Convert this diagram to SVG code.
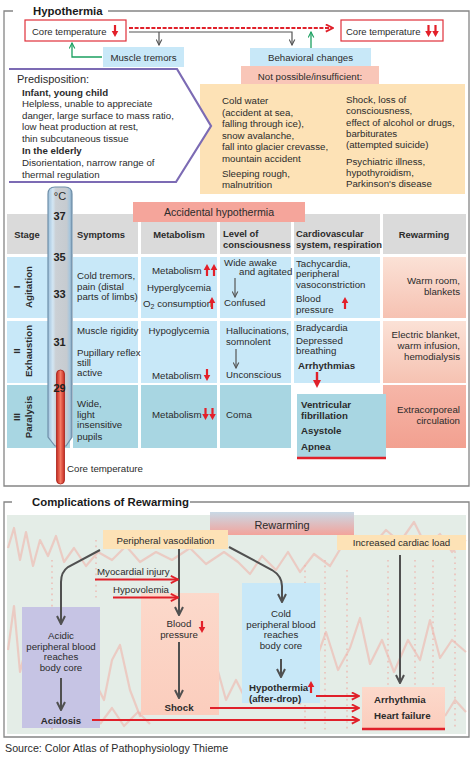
<svg xmlns="http://www.w3.org/2000/svg" width="474" height="761" viewBox="0 0 474 761">
<defs>
<style>
text{font-family:"Liberation Sans",Arial,sans-serif;font-size:9.7px;fill:#2b2b2b}
.b{font-weight:bold}
.hd{font-weight:bold;font-size:9.4px}
.m{text-anchor:middle}
.e{text-anchor:end}
.frame{fill:none;stroke:#858585;stroke-width:1.3}
.title{font-weight:bold;font-size:11.4px;fill:#1a1a1a}
.blue{fill:#c8e8f8}
.teal{fill:#a8d6e2}
.gray{fill:#dadada}
.ga{fill:none;stroke:#555;stroke-width:1.2}
.gA{fill:none;stroke:#505050;stroke-width:2}
.ra{fill:none;stroke:#e0202a;stroke-width:2}
.green{fill:none;stroke:#1ba060;stroke-width:1.3}
.ecg{fill:none;stroke:#f0aea6;stroke-width:2.2;stroke-linejoin:round;opacity:.55}
.dots{fill:none;stroke:#efb4ac;stroke-width:1.6;stroke-dasharray:1.6 4;opacity:.8}
.num{font-weight:bold;font-size:11px;text-anchor:middle;fill:#222}
.ind{fill:#e3202a}
</style>
<marker id="mg" viewBox="0 0 10 10" refX="9" refY="5" markerWidth="7" markerHeight="7" orient="auto" markerUnits="userSpaceOnUse"><path d="M1,1 L9,5 L1,9" fill="none" stroke="#555" stroke-width="1.6"/></marker>
<marker id="mG" viewBox="0 0 10 10" refX="9" refY="5" markerWidth="10" markerHeight="10" orient="auto" markerUnits="userSpaceOnUse"><path d="M1,1 L9,5 L1,9" fill="none" stroke="#505050" stroke-width="2"/></marker>
<marker id="mr" viewBox="0 0 10 10" refX="9" refY="5" markerWidth="9" markerHeight="9" orient="auto" markerUnits="userSpaceOnUse"><path d="M1,1 L9,5 L1,9" fill="none" stroke="#e0202a" stroke-width="2"/></marker>
<marker id="mgr" viewBox="0 0 10 10" refX="9" refY="5" markerWidth="7" markerHeight="7" orient="auto" markerUnits="userSpaceOnUse"><path d="M1,1 L9,5 L1,9" fill="none" stroke="#1ba060" stroke-width="1.6"/></marker>
<marker id="mrf" viewBox="0 0 10 10" refX="5" refY="5" markerWidth="8" markerHeight="8" orient="auto" markerUnits="userSpaceOnUse"><path d="M0,0 L10,5 L0,10 Z" fill="#e0202a"/></marker>
<path id="dn" class="ind" d="M-1.1,-6 H1.1 V0 H3.3 L0,6 L-3.3,0 H-1.1 Z"/>
<path id="up" class="ind" d="M-1.1,6 H1.1 V0 H3.3 L0,-6 L-3.3,0 H-1.1 Z"/>
<linearGradient id="thermoG" x1="0" x2="1" y1="0" y2="0">
<stop offset="0" stop-color="#9ec1dc"/><stop offset="0.2" stop-color="#d3e6f3"/><stop offset="0.32" stop-color="#cbd0d5"/><stop offset="0.78" stop-color="#c6cbd0"/><stop offset="0.9" stop-color="#a8c6dc"/><stop offset="1" stop-color="#7f9fb8"/>
</linearGradient>
<linearGradient id="mercG" x1="0" x2="1" y1="0" y2="0">
<stop offset="0" stop-color="#c42a20"/><stop offset="0.5" stop-color="#f47a64"/><stop offset="1" stop-color="#c42a20"/>
</linearGradient>
<linearGradient id="rewG" x1="0" x2="0" y1="0" y2="1"><stop offset="0" stop-color="#fbe1d6"/><stop offset="1" stop-color="#f6c2b2"/></linearGradient>
<linearGradient id="rew3G" x1="0" x2="0" y1="0" y2="1"><stop offset="0" stop-color="#f6b6a8"/><stop offset="1" stop-color="#f2a090"/></linearGradient>
<linearGradient id="rewBoxG" x1="0" x2="0" y1="0" y2="1"><stop offset="0" stop-color="#c9d9e6"/><stop offset="1" stop-color="#f3a39b"/></linearGradient>
<linearGradient id="salG" x1="0" x2="0" y1="0" y2="1"><stop offset="0" stop-color="#fcd9cb"/><stop offset="1" stop-color="#fbcdbd"/></linearGradient>
</defs>

<rect width="474" height="761" fill="#fff"/>

<!-- ============ TOP SECTION ============ -->
<g id="frame-hypothermia">
<path class="frame" d="M13,11 H4 V486 H469 V11 H108"/>
<text class="title" x="33" y="15">Hypothermia</text>
</g>

<g id="not-possible-causes">
<rect x="200" y="84" width="265" height="110" fill="#fde2b6"/>
<text x="222" y="104">Cold water</text>
<text x="222" y="115.5">(accident at sea,</text>
<text x="222" y="127">falling through ice),</text>
<text x="222" y="138.5">snow avalanche,</text>
<text x="222" y="150">fall into glacier crevasse,</text>
<text x="222" y="161.5">mountain accident</text>
<text x="222" y="177">Sleeping rough,</text>
<text x="222" y="188">malnutrition</text>
<text x="346" y="103">Shock, loss of</text>
<text x="346" y="114">consciousness,</text>
<text x="346" y="125.5">effect of alcohol or drugs,</text>
<text x="346" y="137">barbiturates</text>
<text x="346" y="148">(attempted suicide)</text>
<text x="346" y="165">Psychiatric illness,</text>
<text x="346" y="176">hypothyroidism,</text>
<text x="346" y="187">Parkinson's disease</text>
</g>

<g id="predisposition">
<path d="M9,69 L177,69 L211,126 L176,182 L9,182" fill="#fff" stroke="#7c6bb4" stroke-width="2.2" stroke-linejoin="miter"/>
<text x="17" y="83" style="font-size:11px">Predisposition:</text>
<text class="b" x="22" y="95.5">Infant, young child</text>
<text x="22" y="107">Helpless, unable to appreciate</text>
<text x="22" y="118.5">danger, large surface to mass ratio,</text>
<text x="22" y="130">low heat production at rest,</text>
<text x="22" y="141.5">thin subcutaneous tissue</text>
<text class="b" x="22" y="154">In the elderly</text>
<text x="22" y="166">Disorientation, narrow range of</text>
<text x="22" y="177.5">thermal regulation</text>
</g>

<g id="core-temp-low">
<rect x="25" y="20" width="101" height="21" fill="#fff" stroke="#e0303a" stroke-width="1.2"/>
<text x="32" y="35" style="font-size:9.5px">Core temperature</text>
<use href="#dn" x="115" y="31"/>
</g>

<g id="core-temp-very-low">
<rect x="341" y="20" width="102" height="21" fill="#fff" stroke="#e0303a" stroke-width="1.2"/>
<text x="346" y="35" style="font-size:9.5px">Core temperature</text>
<use href="#dn" x="428.5" y="31"/>
<use href="#dn" x="435.5" y="31"/>
</g>

<g id="muscle-tremors">
<rect x="103" y="47" width="81" height="20" class="blue"/>
<text class="m" x="143.5" y="61">Muscle tremors</text>
</g>

<g id="behavioral-changes">
<rect x="250" y="48" width="121" height="18" class="blue"/>
<text class="m" x="310.5" y="61">Behavioral changes</text>
</g>

<g id="not-possible">
<rect x="241" y="66" width="138" height="18" fill="#f9c6b8"/>
<text class="m" x="310" y="79.5">Not possible/insufficient:</text>
</g>

<g id="connectors-top">
<path d="M129,28 H333" fill="none" stroke="#e0202a" stroke-width="2" stroke-dasharray="4 1.6" marker-end="url(#mr)"/>
<path class="ga" d="M129,32 H292 V45" marker-end="url(#mg)"/>
<path class="ga" d="M159,32 V45" marker-end="url(#mg)"/>
<path class="green" d="M102,57 H72 V43" marker-end="url(#mgr)"/>
<path class="green" d="M311,48 V32" marker-end="url(#mgr)"/>
</g>

<!-- ============ TABLE ============ -->
<g id="table-header">
<rect x="7" y="214" width="63" height="40" class="gray"/>
<rect x="73" y="214" width="65" height="40" class="gray"/>
<rect x="141" y="214" width="76" height="40" class="gray"/>
<rect x="220" y="214" width="71" height="40" class="gray"/>
<rect x="294" y="214" width="86" height="40" class="gray"/>
<rect x="383" y="214" width="83" height="40" class="gray"/>
<text class="hd m" x="27" y="238">Stage</text>
<text class="hd" x="77" y="238">Symptoms</text>
<text class="hd m" x="179" y="238">Metabolism</text>
<text class="hd" x="223" y="236.5">Level of</text>
<text class="hd" x="223" y="248">consciousness</text>
<text class="hd" x="296" y="236.5">Cardiovascular</text>
<text class="hd" x="296" y="248">system, respiration</text>
<text class="hd m" x="424" y="238">Rewarming</text>
</g>

<g id="accidental-hypothermia">
<rect x="133" y="202" width="172" height="20" fill="#f5a59b"/>
<text class="m" x="219" y="215.5" style="font-size:10.6px">Accidental hypothermia</text>
</g>

<g id="row-1-agitation">
<rect x="7" y="257" width="63" height="61" class="blue"/>
<rect x="73" y="257" width="65" height="61" class="blue"/>
<rect x="141" y="257" width="76" height="61" class="blue"/>
<rect x="220" y="257" width="71" height="61" class="blue"/>
<rect x="294" y="257" width="86" height="61" class="blue"/>
<rect x="383" y="257" width="83" height="61" fill="url(#rewG)"/>
<text class="b m" transform="translate(20,287) rotate(-90)">I</text>
<text class="b m" transform="translate(32,287) rotate(-90)">Agitation</text>
<text x="77" y="279">Cold tremors,</text>
<text x="77" y="289.5">pain (distal</text>
<text x="77" y="300">parts of limbs)</text>
<text x="152" y="274">Metabolism</text>
<use href="#up" x="207" y="270"/>
<use href="#up" x="214" y="270"/>
<text class="m" x="179" y="291">Hyperglycemia</text>
<text x="143" y="307">O<tspan dy="2" style="font-size:7px">2</tspan><tspan dy="-2"> consumption</tspan></text>
<use href="#up" x="212" y="303"/>
<text x="224" y="265.5">Wide awake</text>
<text x="239" y="275">and agitated</text>
<path class="ga" d="M235,278 V297" marker-end="url(#mg)"/>
<text x="224" y="306">Confused</text>
<text x="296" y="266.5">Tachycardia,</text>
<text x="296" y="277">peripheral</text>
<text x="296" y="287.5">vasoconstriction</text>
<text x="296" y="302">Blood</text>
<text x="296" y="312.5">pressure</text>
<use href="#up" x="345" y="303"/>
<text class="e" x="460" y="284">Warm room,</text>
<text class="e" x="460" y="295">blankets</text>
</g>

<g id="row-2-exhaustion">
<rect x="7" y="321" width="63" height="62" class="blue"/>
<rect x="73" y="321" width="65" height="62" class="blue"/>
<rect x="141" y="321" width="76" height="62" class="blue"/>
<rect x="220" y="321" width="71" height="62" class="blue"/>
<rect x="294" y="321" width="86" height="62" class="blue"/>
<rect x="383" y="321" width="83" height="62" fill="url(#rewG)"/>
<text class="b m" transform="translate(20,351) rotate(-90)">II</text>
<text class="b m" transform="translate(32,351) rotate(-90)">Exhaustion</text>
<text x="77" y="334">Muscle rigidity</text>
<text x="77" y="355.5">Pupillary reflex</text>
<text x="77" y="365.5">still</text>
<text x="77" y="376">active</text>
<text class="m" x="179" y="334">Hypoglycemia</text>
<text x="152" y="379">Metabolism</text>
<use href="#dn" x="207" y="375"/>
<text x="226" y="334">Hallucinations,</text>
<text x="226" y="345">somnolent</text>
<path class="ga" d="M236,349 V368" marker-end="url(#mg)"/>
<text x="226" y="378">Unconscious</text>
<text x="296" y="331">Bradycardia</text>
<text x="296" y="344">Depressed</text>
<text x="296" y="354">breathing</text>
<text class="b" x="298" y="369">Arrhythmias</text>
<text class="e" x="460" y="338">Electric blanket,</text>
<text class="e" x="460" y="349">warm infusion,</text>
<text class="e" x="460" y="359.5">hemodialysis</text>
</g>

<g id="row-3-paralysis">
<rect x="7" y="385" width="63" height="63" class="teal"/>
<rect x="73" y="385" width="65" height="63" class="teal"/>
<rect x="141" y="385" width="76" height="63" class="teal"/>
<rect x="220" y="385" width="71" height="63" class="teal"/>
<rect x="383" y="385" width="83" height="63" fill="url(#rew3G)"/>
<text class="b m" transform="translate(20,417) rotate(-90)">III</text>
<text class="b m" transform="translate(32,417) rotate(-90)">Paralysis</text>
<text x="77" y="406.5">Wide,</text>
<text x="77" y="417.5">light</text>
<text x="77" y="428">insensitive</text>
<text x="77" y="439.5">pupils</text>
<text x="152" y="418">Metabolism</text>
<use href="#dn" x="205.5" y="414"/>
<use href="#dn" x="212.5" y="414"/>
<text x="226" y="418">Coma</text>
<text class="e" x="460" y="413">Extracorporeal</text>
<text class="e" x="460" y="423.5">circulation</text>
</g>

<g id="cardiac-arrest">
<rect x="297" y="394" width="89" height="63" class="teal"/>
<line x1="297" y1="458" x2="386" y2="458" stroke="#e0202a" stroke-width="2.5"/>
<text class="b" x="301" y="408">Ventricular</text>
<text class="b" x="301" y="418.5">fibrillation</text>
<text class="b" x="301" y="434">Asystole</text>
<text class="b" x="301" y="450">Apnea</text>
</g>

<g id="connectors-table">
<path d="M317,372 V384" stroke="#e0202a" stroke-width="2.4" fill="none" marker-end="url(#mrf)"/>
</g>

<g id="thermometer">
<path d="M48,194 Q48,187 55,187 L65,187 Q72,187 72,194 L72,437 L66,446 L55,446 L48,437 Z" fill="url(#thermoG)" stroke="#6f8fa9" stroke-width="1.2"/>
<rect x="56.5" y="370" width="8" height="114" rx="4" fill="url(#mercG)" stroke="#a82018" stroke-width="0.8"/>
<text x="60" y="200" class="m" style="font-size:11px">°C</text>
<text class="num" x="59.5" y="220">37</text>
<text class="num" x="59.5" y="261">35</text>
<text class="num" x="59.5" y="298">33</text>
<text class="num" x="59.5" y="346">31</text>
<text class="num" x="59.5" y="392">29</text>
<text x="67" y="472">Core temperature</text>
</g>

<!-- ============ BOTTOM SECTION ============ -->
<g id="frame-complications">
<path class="frame" d="M12,502 H4 V737 H469 V502 H190"/>
<text class="title" x="32" y="506">Complications of Rewarming</text>
</g>

<g id="background-ecg">
<rect x="7" y="515" width="459" height="219" fill="#e4ede7"/>
<path class="dots" d="M52,560 V730 M96,540 V600 M305,565 V730 M325,560 V730 M347,570 V730 M388,560 V690 M415,560 V690 M433,560 V690 M455,540 V730"/>
<path class="ecg" d="M8,548 L14,528 L20,560 L26,532 L33,566 L40,540 L48,556 L56,536 L64,562 L74,548 L86,566 L98,552 L112,560 L126,546 L140,562 L156,552 L172,560 L190,548 L206,564 L224,552 L238,562 L250,574 L262,556 L276,570 L288,552 L300,572 L314,554 L330,566 L342,546 L356,536 L370,548 L386,530 L400,542 L414,522 L426,546 L440,534 L452,552 L466,540"/>
<path class="ecg" d="M8,650 L14,606 L20,672 L28,640 L36,700 L44,660 L54,690 L66,664 L80,700 L94,680 L104,700 L112,660 L120,645 L130,690 L140,716 L150,690 L162,706 L176,672 L190,700 L204,690 L216,664 L226,700 L236,680 L246,700 L258,676 L270,702 L284,690 L300,704 L316,660 L326,632 L338,670 L350,648 L360,618 L370,664 L382,640 L394,672 L408,640 L420,660 L430,620 L440,658 L452,640 L466,652"/>
<path class="ecg" d="M100,724 L112,708 L124,726 L138,712 L150,724 M445,716 L455,700 L466,712"/>
</g>

<g id="rewarming">
<rect x="210" y="512" width="144" height="23" fill="url(#rewBoxG)"/>
<text class="m" x="282" y="529" style="font-size:10.9px">Rewarming</text>
</g>

<g id="peripheral-vasodilation">
<rect x="103" y="530" width="125" height="19" fill="#fde2b6"/>
<text class="m" x="165.5" y="543.5">Peripheral vasodilation</text>
</g>

<g id="increased-cardiac-load">
<rect x="337" y="535" width="129" height="15" fill="#fde2b6"/>
<text class="m" x="401.5" y="546">Increased cardiac load</text>
</g>

<g id="acidic-blood">
<rect x="22" y="607" width="78" height="121" fill="#c6c4e4"/>
<text class="m" x="61" y="639">Acidic</text>
<text class="m" x="61" y="649.5">peripheral blood</text>
<text class="m" x="61" y="660">reaches</text>
<text class="m" x="61" y="671">body core</text>
<text class="b m" x="61" y="724">Acidosis</text>
</g>

<g id="blood-pressure-shock">
<rect x="141" y="593" width="78" height="122" fill="url(#salG)"/>
<text class="m" x="179" y="627">Blood</text>
<text class="m" x="179" y="638">pressure</text>
<use href="#dn" x="202" y="627"/>
<text class="b m" x="179" y="711">Shock</text>
</g>

<g id="cold-blood">
<rect x="242" y="583" width="78" height="120" fill="#c8e8f8"/>
<text class="m" x="281" y="617">Cold</text>
<text class="m" x="281" y="627.5">peripheral blood</text>
<text class="m" x="281" y="638">reaches</text>
<text class="m" x="281" y="649">body core</text>
<text class="b" x="249" y="691">Hypothermia</text>
<use href="#up" x="311" y="687"/>
<text class="b" x="249" y="702">(after-drop)</text>
</g>

<g id="arrhythmia-heart-failure">
<rect x="362" y="687" width="83" height="42" fill="url(#salG)"/>
<line x1="362" y1="729" x2="445" y2="729" stroke="#e0202a" stroke-width="2.5"/>
<text class="b" x="374" y="703">Arrhythmia</text>
<text class="b" x="374" y="719">Heart failure</text>
</g>

<g id="connectors-bottom">
<path class="gA" d="M100,550 L68,567 Q61,572 61,582 L61,624" marker-end="url(#mG)"/>
<path class="gA" d="M179,549 V615" marker-end="url(#mG)"/>
<path class="gA" d="M229,547 L272,570 Q282,576 282,586 L282,602" marker-end="url(#mG)"/>
<path class="gA" d="M400,555 V683" marker-end="url(#mG)"/>
<path class="gA" d="M61,678 V710" marker-end="url(#mG)"/>
<path class="gA" d="M179,642 V698" marker-end="url(#mG)"/>
<path class="gA" d="M281,659 V677" marker-end="url(#mG)"/>
<text x="97" y="575" fill="#2b2b2b">Myocardial injury</text>
<path class="ra" d="M95,579.5 H178" marker-end="url(#mr)"/>
<text x="113" y="593">Hypovolemia</text>
<path class="ra" d="M113,597.5 H178" marker-end="url(#mr)"/>
<path class="ra" d="M316,696 H359" marker-end="url(#mr)"/>
<path class="ra" d="M210,708 H359" marker-end="url(#mr)"/>
<path class="ra" d="M92,720 H359" marker-end="url(#mr)"/>
</g>

<text x="5" y="752" style="font-size:10.7px">Source: Color Atlas of Pathophysiology Thieme</text>
</svg>
